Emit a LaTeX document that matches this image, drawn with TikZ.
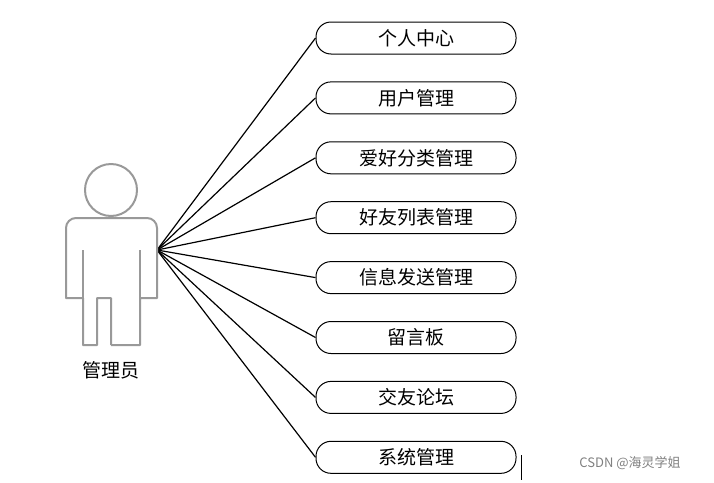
\documentclass[tikz,border=0pt]{standalone}
\usepackage{fontspec}
\newfontfamily\cjk{Noto Sans CJK SC}
\begin{document}
\begin{tikzpicture}[x=1pt,y=-1pt,
  uc/.style={draw,line width=1pt,rounded corners=15pt,minimum width=200pt,minimum height=32pt,font=\cjk\fontsize{19}{19}\selectfont},
  fig/.style={draw=gray!80,line width=2pt,line join=round}]
\useasboundingbox (0,0) rectangle (714,482);
\coordinate (hub) at (157,250);
\foreach \t [count=\i] in {个人中心,用户管理,爱好分类管理,好友列表管理,信息发送管理,留言板,交友论坛,系统管理}{
  \node[uc] (u\i) at (416,{38+(\i-1)*59.9}) {\t};
  \draw[line width=1.2pt] (hub) -- (u\i.west);
}
\node[fig,circle,minimum size=52pt,inner sep=0pt] (head) at (111,190) {};
\draw[fig] (111,345) -- (111,298) -- (97,298) -- (97,345) -- (83,345) -- (83,298) -- (66,298) -- (66,232)
  [rounded corners=10pt] -- (66,218) -- (157,218) [sharp corners] -- (157,298) -- (140,298) -- (140,345) -- (111,345);
\draw[fig] (83,298) -- (83,250) (140,298) -- (140,250);
\node[font=\cjk\fontsize{19}{19}\selectfont] (lbl) at (111,370) {管理员};
\node[font=\cjk\fontsize{13}{13}\selectfont,text=gray] (wm) at (630,463) {CSDN @海灵学姐};
\draw[thick] (521,455) -- (521,480);
\end{tikzpicture}
\end{document}
